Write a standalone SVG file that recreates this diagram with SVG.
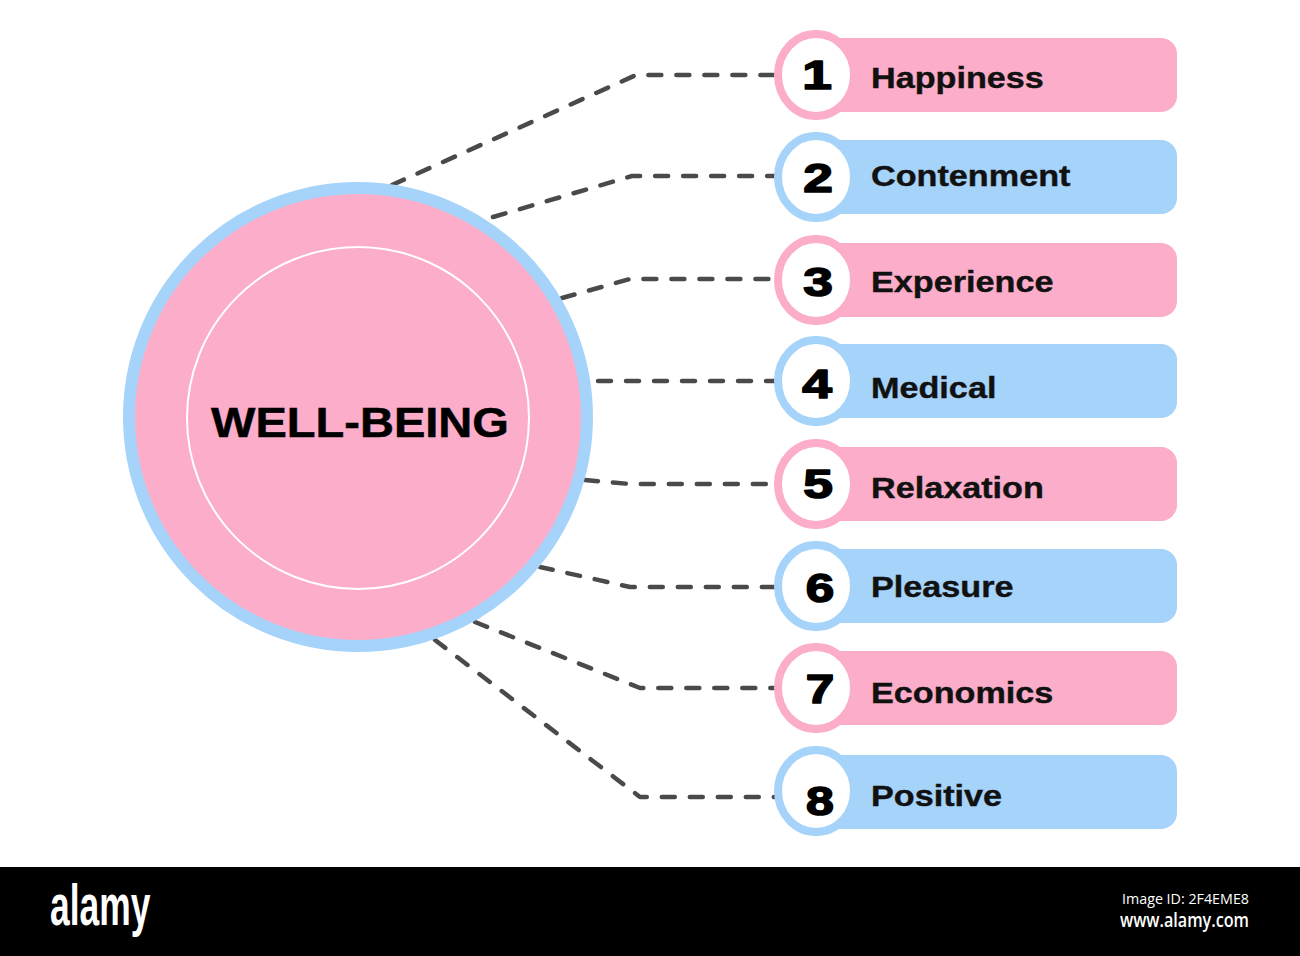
<svg xmlns="http://www.w3.org/2000/svg" width="1300" height="956" viewBox="0 0 1300 956">
<style>
.pink{fill:#FCADC9}
.blue{fill:#A5D3FA}
.ringp{fill:#FFFFFF;stroke:#FCADC9;stroke-width:8}
.ringb{fill:#FFFFFF;stroke:#A5D3FA;stroke-width:8}
.num{font-family:"Liberation Sans",Arial,sans-serif;font-weight:bold;font-size:41px;fill:#000;stroke:#000;stroke-width:1.6;stroke-linejoin:round;text-anchor:middle}
.lbl{font-family:"Liberation Sans",Arial,sans-serif;font-weight:bold;font-size:30px;fill:#111;stroke:#111;stroke-width:0.4}
.conn{fill:none;stroke:#4A4A4A;stroke-width:4.5;stroke-dasharray:13 15;stroke-linecap:round;stroke-linejoin:round}
</style>
<rect x="0" y="0" width="1300" height="956" fill="#FFFFFF"/>

<g id="connectors">
<path class="conn" d="M392,185 L636,75 L778,75"/>
<path class="conn" d="M493,217 L632,176 L778,176"/>
<path class="conn" d="M562,298 L630,279 L778,279"/>
<path class="conn" d="M598,381 L778,381"/>
<path class="conn" d="M585,480 L630,484 L778,484"/>
<path class="conn" d="M540,567 L630,587 L778,587"/>
<path class="conn" d="M475,622 L640,688 L778,688"/>
<path class="conn" d="M435,640 L640,797 L778,797"/>
</g>

<g id="center">
<circle cx="358" cy="417" r="229" fill="#FCADC9" stroke="#A5D3FA" stroke-width="12"/>
<circle cx="358" cy="418" r="171" fill="none" stroke="#FFFFFF" stroke-width="2"/>
<text transform="translate(360,437) scale(1.12,1)" x="0" y="0" text-anchor="middle" font-family="Liberation Sans, Arial, sans-serif" font-weight="bold" font-size="42" fill="#000" stroke="#000" stroke-width="0.5">WELL-BEING</text>
</g>

<g id="item1">
<rect class="pink" x="818" y="38" width="359" height="74" rx="16"/>
<ellipse class="ringp" cx="816" cy="75" rx="38" ry="41"/>
<text class="num" transform="translate(817,89) scale(1.3,1)">1</text>
<text class="lbl" transform="translate(871,88) scale(1.14,1)">Happiness</text>
</g>
<g id="item2">
<rect class="blue" x="818" y="140" width="359" height="74" rx="16"/>
<ellipse class="ringb" cx="816" cy="177" rx="38" ry="41"/>
<text class="num" transform="translate(818,192) scale(1.3,1)">2</text>
<text class="lbl" transform="translate(871,186) scale(1.14,1)">Contenment</text>
</g>
<g id="item3">
<rect class="pink" x="818" y="243" width="359" height="74" rx="16"/>
<ellipse class="ringp" cx="816" cy="280" rx="38" ry="41"/>
<text class="num" transform="translate(818,296) scale(1.3,1)">3</text>
<text class="lbl" transform="translate(871,292) scale(1.14,1)">Experience</text>
</g>
<g id="item4">
<rect class="blue" x="818" y="344" width="359" height="74" rx="16"/>
<ellipse class="ringb" cx="816" cy="381" rx="38" ry="41"/>
<text class="num" transform="translate(817,398) scale(1.3,1)">4</text>
<text class="lbl" transform="translate(871,398) scale(1.14,1)">Medical</text>
</g>
<g id="item5">
<rect class="pink" x="818" y="447" width="359" height="74" rx="16"/>
<ellipse class="ringp" cx="816" cy="484" rx="38" ry="41"/>
<text class="num" transform="translate(818,498) scale(1.3,1)">5</text>
<text class="lbl" transform="translate(871,498) scale(1.14,1)">Relaxation</text>
</g>
<g id="item6">
<rect class="blue" x="818" y="549" width="359" height="74" rx="16"/>
<ellipse class="ringb" cx="816" cy="586" rx="38" ry="41"/>
<text class="num" transform="translate(820,602) scale(1.25,1)" font-size="44">6</text>
<text class="lbl" transform="translate(871,597) scale(1.14,1)">Pleasure</text>
</g>
<g id="item7">
<rect class="pink" x="818" y="651" width="359" height="74" rx="16"/>
<ellipse class="ringp" cx="816" cy="688" rx="38" ry="41"/>
<text class="num" transform="translate(820,703) scale(1.25,1)" font-size="42">7</text>
<text class="lbl" transform="translate(871,703) scale(1.14,1)">Economics</text>
</g>
<g id="item8">
<rect class="blue" x="818" y="755" width="359" height="74" rx="16"/>
<ellipse class="ringb" cx="816" cy="791" rx="38" ry="41"/>
<text class="num" transform="translate(820,815) scale(1.22,1)" font-size="51">8</text>
<text class="lbl" transform="translate(871,806) scale(1.14,1)">Positive</text>
</g>

<g id="footer">
<rect x="0" y="867" width="1300" height="89" fill="#000000"/>
<text transform="translate(50,925) scale(0.61,1)" font-family="Liberation Sans, Arial, sans-serif" font-weight="bold" font-size="58" fill="#FFFFFF">alamy</text>
<text x="1249" y="904" text-anchor="end" textLength="127" lengthAdjust="spacingAndGlyphs" font-family="Open Sans, Noto Sans, sans-serif" font-size="15" fill="#FFFFFF">Image ID: 2F4EME8</text>
<text x="1249" y="927" text-anchor="end" textLength="129" lengthAdjust="spacingAndGlyphs" font-family="Open Sans, Noto Sans, sans-serif" font-weight="600" font-size="19" fill="#FFFFFF">www.alamy.com</text>
</g>
</svg>
